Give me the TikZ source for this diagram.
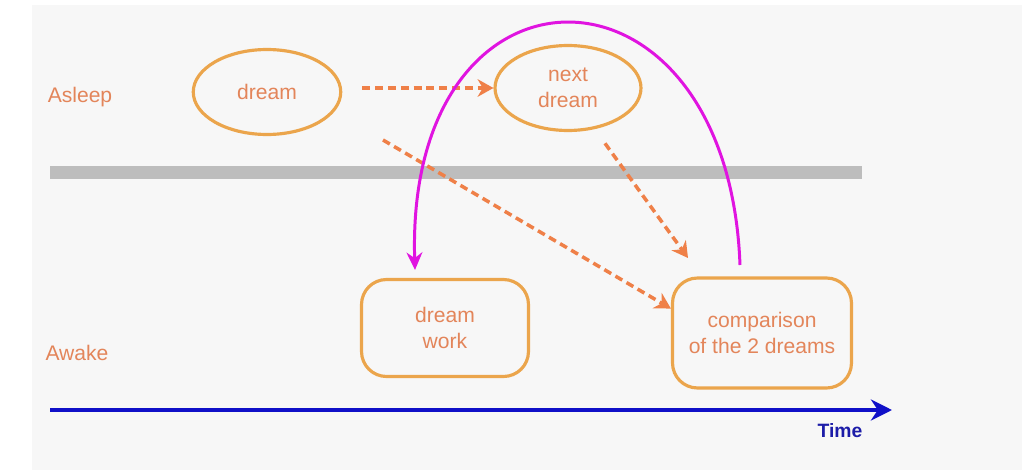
\documentclass[tikz,border=0pt]{standalone}
\usepackage{fontspec}
\setmainfont{Liberation Sans}
\usetikzlibrary{arrows.meta,shapes.geometric}
\definecolor{bgGrey}{HTML}{F7F7F7}
\definecolor{barGrey}{HTML}{BDBDBD}
\definecolor{boxOrange}{HTML}{EBA54C}
\definecolor{txtOrange}{HTML}{E3855A}
\definecolor{dashOrange}{HTML}{EF8048}
\definecolor{arcMagenta}{HTML}{E014E0}
\definecolor{axisBlue}{HTML}{1010C8}
\definecolor{timeBlue}{HTML}{1C1CA8}

\begin{document}
\begin{tikzpicture}[x=0.02cm, y=-0.02cm,
    state/.style={draw=boxOrange, line width=1.8pt, text=txtOrange, align=center,
      font=\fontsize{12}{15}\selectfont, inner sep=0pt},
    sleepnode/.style={state, ellipse, minimum width=2.95cm, minimum height=1.7cm},
    wakenode/.style={state, rounded corners=0.5cm},
    phase/.style={text=txtOrange, font=\fontsize{12}{15}\selectfont},
    link/.style={dashOrange, line width=2pt, dash pattern=on 4.5pt off 2.8pt,
      -{Stealth[length=9pt,width=10pt]}},
  ]
    \useasboundingbox (0,0) rectangle (1022,470);
    \fill[bgGrey] (32,5) rectangle (1022,470);

    % Asleep / Awake border
    \fill[barGrey] (50,166) rectangle (862,179);
    \node[phase] (asleep) at (80,97) {Asleep};
    \node[phase] (awake) at (77,353) {Awake};

    % Dreams
    \node[sleepnode] (dream) at (267,92) {dream};
    \node[sleepnode, minimum width=2.92cm] (next) at (568,88) {next\\dream};

    % Waking work
    \node[wakenode, minimum width=3.34cm, minimum height=1.94cm] (work) at (445,328) {dream\\work};
    \node[wakenode, minimum width=3.58cm, minimum height=2.2cm] (comp) at (762,333) {comparison\\of the 2 dreams};

    % Dashed links
    \coordinate (dreamout) at (383,140);
    \coordinate (compin) at (688,258);
    \draw[link, shorten <=0.4cm] (dream.east |- next.west) -- (next.west);
    \draw[link] (dreamout) -- (comp.165);
    \draw[link, shorten <=0.35cm] (next.-57) -- (compin);

    % Back to the dream work
    \coordinate (arcout) at (740,265);
    \coordinate (arcin) at (415,270);
    \draw[arcMagenta, line width=1.7pt, -{Stealth[length=10pt,width=9pt]}]
      (arcout) .. controls (728,-58) and (405,-58) .. (arcin);

    % Timeline
    \coordinate (t0) at (50,410);
    \coordinate (t1) at (892,410);
    \draw[axisBlue, line width=2.2pt, -{Stealth[length=12pt,width=12pt]}] (t0) -- (t1);
    \node[timeBlue, font=\fontsize{11}{13}\bfseries] (time) at (840,431) {Time};
\end{tikzpicture}
\end{document}
